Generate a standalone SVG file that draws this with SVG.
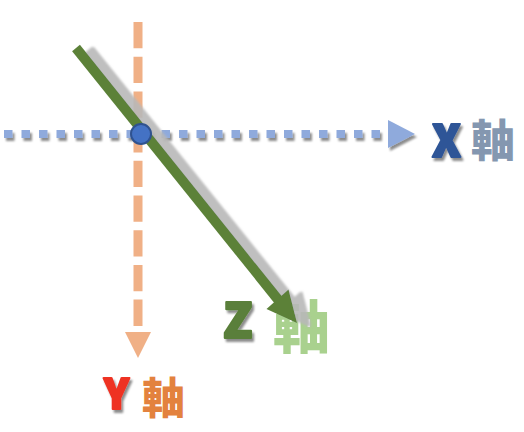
<svg xmlns="http://www.w3.org/2000/svg" width="524" height="432" viewBox="0 0 524 432">
<defs>
<style>
.lbl{font-family:"Noto Sans CJK JP","Noto Sans",sans-serif;font-weight:900;}
.let{stroke-width:2.2;stroke-linejoin:round;paint-order:stroke;}
</style>
<filter id="sh" x="-20%" y="-20%" width="150%" height="150%">
<feGaussianBlur in="SourceAlpha" stdDeviation="1.3"/>
<feOffset dx="2" dy="3" result="b"/>
<feFlood flood-color="#000" flood-opacity="0.45"/>
<feComposite in2="b" operator="in" result="s"/>
<feMerge><feMergeNode in="s"/><feMergeNode in="SourceGraphic"/></feMerge>
</filter>
<filter id="zsh" x="-20%" y="-20%" width="150%" height="150%">
<feMorphology in="SourceAlpha" operator="dilate" radius="0.8" result="d"/>
<feGaussianBlur in="d" stdDeviation="0.8" />
<feOffset dx="13" dy="3" result="b"/>
<feFlood flood-color="#b8b8b8" flood-opacity="0.9"/>
<feComposite in2="b" operator="in" result="s"/>
<feMerge><feMergeNode in="s"/><feMergeNode in="SourceGraphic"/></feMerge>
</filter>
</defs>
<rect width="524" height="432" fill="#ffffff"/>
<g id="x-label">
<text class="lbl let" x="432" y="157" font-size="44" fill="#2f5597" stroke="#2f5597" filter="url(#sh)">X</text>
<text class="lbl" x="471" y="157" font-size="44" fill="#8497b0">軸</text>
</g>
<g id="y-label">
<text class="lbl let" x="104" y="409" font-size="41" fill="#ee3224" stroke="#ee3224" filter="url(#sh)">Y</text>
<text class="lbl" x="142" y="414" font-size="43" fill="#e3823e">軸</text>
</g>
<g id="z-label">
<text class="lbl let" x="223" y="338" font-size="48" fill="#5a7f3a" stroke="#5a7f3a" filter="url(#sh)">Z</text>
<text class="lbl" x="273" y="348" font-size="57" fill="#a9d18e">軸</text>
</g>
<g id="connectors">
<g id="y-axis">
<line x1="138" y1="22" x2="138" y2="332" stroke="#f0b086" stroke-width="9" stroke-dasharray="26.3 8.4"/>
<polygon points="125,332 151,332 138,358" fill="#f0b086"/>
</g>
<g id="x-axis" filter="url(#sh)">
<line x1="4" y1="134" x2="388" y2="134" stroke="#8faadc" stroke-width="8" stroke-dasharray="8.5 9"/>
<polygon points="388,120 388,148 415,134" fill="#8faadc"/>
</g>
<g id="z-axis" filter="url(#zsh)">
<line x1="76" y1="48" x2="280" y2="302" stroke="#5b8139" stroke-width="10"/>
<polygon points="297,323 288.5,289.5 266.5,309" fill="#5b8139"/>
</g>
</g>
<g id="origin">
<circle cx="141" cy="134" r="10" fill="#4472c4" stroke="#2f528f" stroke-width="2"/>
</g>
</svg>
